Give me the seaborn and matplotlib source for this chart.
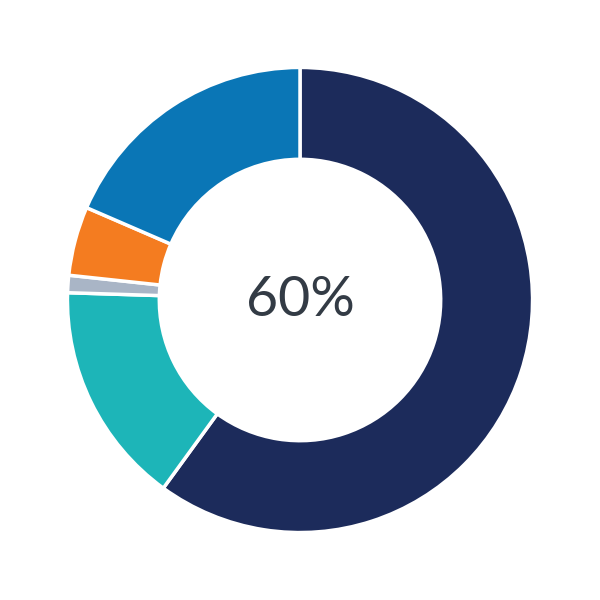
import matplotlib
matplotlib.use("Agg")
import matplotlib.pyplot as plt
import seaborn as sns

sns.set_theme(style="white")
plt.rcParams['font.family'] = ['Lato', 'DejaVu Sans']

# segments clockwise from 12 o'clock
labels = ["Navy", "Teal", "Gray", "Orange", "Blue"]
values = [60, 15.5, 1.2, 4.8, 18.5]
colors = ["#1c2b5b", "#1db5b8", "#a9b5c6", "#f47c20", "#0a76b6"]
center_label = "60%"

fig, ax = plt.subplots(figsize=(6, 6), dpi=100)
fig.subplots_adjust(left=0, right=1, top=1, bottom=0)

ax.pie(values, colors=colors, startangle=90, counterclock=False,
       radius=1.0,
       wedgeprops=dict(width=0.395, edgecolor="white", linewidth=2.5))
ax.text(0, 0, center_label, ha="center", va="center", fontsize=40,
        color="#333b45")
ax.set_xlim(-1.29, 1.29)
ax.set_ylim(-1.29, 1.29)
ax.set_aspect("equal")
ax.axis("off")

plt.savefig("out.png", dpi=100, facecolor="white")
